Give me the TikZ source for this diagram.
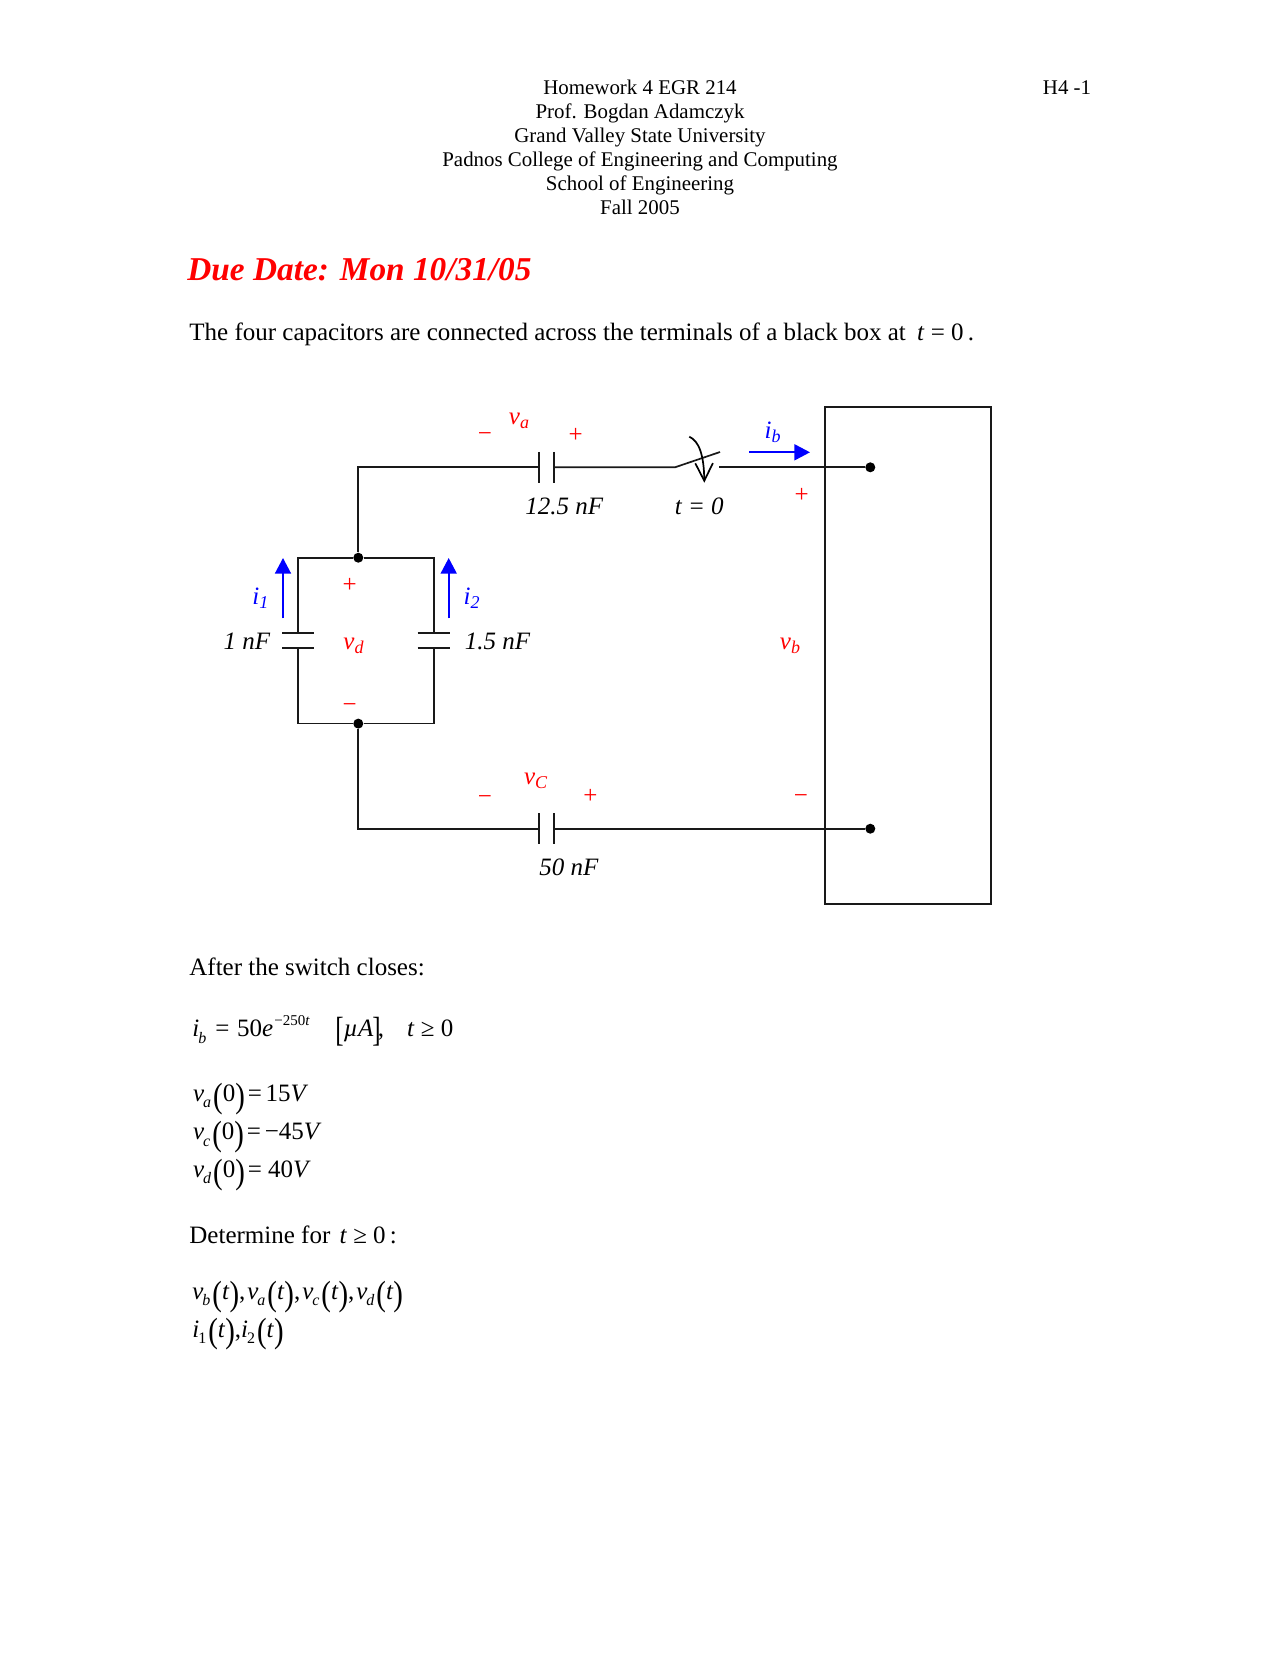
\documentclass[tikz,border=0pt]{standalone}
\usepackage{fontspec}
\usepackage{graphicx}
\setmainfont{Liberation Serif}
\usetikzlibrary{arrows.meta}
\definecolor{lblred}{rgb}{1,0,0}
\definecolor{lblblue}{rgb}{0,0,1}
\newcommand{\sbc}[2]{\textit{#1}\raisebox{-0.35ex}{\fontsize{9}{10}\selectfont\textit{#2}}}
\newcommand{\sbe}[2]{\textit{#1}\kern-0.5pt\raisebox{-0.55ex}{\fontsize{8}{9}\selectfont\textit{#2}}}
\newcommand{\sbd}[2]{\textit{#1}\kern-0.5pt\raisebox{-0.55ex}{\fontsize{8}{9}\selectfont #2}}
\newcommand{\pnb}[1]{\kern1pt\raisebox{-0.5ex}{\scalebox{1.15}[1.4]{(}}#1\raisebox{-0.5ex}{\scalebox{1.15}[1.4]{)}}}
\tikzset{
  wire/.style={line width=0.85pt,black!90},
  dot/.style={circle,fill=black,inner sep=0pt,minimum size=5pt},
  cirtext/.style={inner sep=0pt,font=\fontsize{12.5}{15}\selectfont},
  redtext/.style={cirtext,text=lblred},
  bluetext/.style={cirtext,text=lblblue},
  bodytext/.style={inner sep=0pt,anchor=base west,font=\fontsize{12.5}{15}\selectfont},
  eqtext/.style={inner sep=0pt,anchor=base west,font=\fontsize{12.5}{15}\selectfont},
  iarrow/.style={line width=0.85pt,lblblue,-{Triangle[length=7.8pt,width=8pt]}}
}
\begin{document}
\begin{tikzpicture}[x=0.5pt,y=-0.5pt]
\useasboundingbox (0,0) rectangle (1280,1656);

% header
\node[inner sep=0pt,align=center,font=\fontsize{10.45}{12}\selectfont] (head) at (640,147.5) {Homework 4 EGR 214\\Prof. Bogdan Adamczyk\\Grand Valley State University\\Padnos College of Engineering and Computing\\School of Engineering\\Fall 2005};
\node[inner sep=0pt,font=\fontsize{10.45}{12}\selectfont] (pagenum) at (1067,87.5) {H4 -1};
\node[inner sep=0pt,anchor=base west,text=lblred,font=\fontsize{16.65}{20}\selectfont\bfseries\itshape] (due) at (187,280) {Due Date: Mon 10/31/05};
\node[bodytext] (intro) at (189,340) {The four capacitors are connected across the terminals of a black box at\kern2.6pt\ \textit{t} = 0\,.};

% black box and terminals
\draw[wire] (825,407) rectangle (990.7,903.8);
\node[dot] (termb) at (870.3,467.3) {};
\node[dot] (termc) at (870.3,828.7) {};
\node[dot] (jtop) at (358.3,557.7) {};
\node[dot] (jbot) at (358.3,723.6) {};

% named points on the wires
\coordinate (capaL) at (539,467.3);
\coordinate (capaR) at (554.3,467.3);
\coordinate (capcL) at (539,828.7);
\coordinate (capcR) at (554.3,828.7);
\coordinate (swL) at (675,467.3);
\coordinate (swB) at (720,452);
\coordinate (swR) at (719,467.3);
\coordinate (cap1T) at (298,633);
\coordinate (cap1B) at (298,648);
\coordinate (cap2T) at (434,633);
\coordinate (cap2B) at (434,648);

\draw[wire] (jtop) -- (358.3,467.3) -- (capaL);
\draw[wire] (capaR) -- (swL) -- (swB);
\draw[wire] (swR) -- (termb);
\draw[wire] (jbot) -- (358.3,828.7) -- (capcL);
\draw[wire] (capcR) -- (termc);
\draw[wire] (jtop) -- (298,557.7) -- (cap1T);
\draw[wire] (cap1B) -- (298,723.6) -- (jbot);
\draw[wire] (jtop) -- (434,557.7) -- (cap2T);
\draw[wire] (cap2B) -- (434,723.6) -- (jbot);

% capacitor plates
\draw[wire] (539,451.9) -- (539,483);
\draw[wire] (554.3,451.9) -- (554.3,483);
\draw[wire] (539,813) -- (539,844);
\draw[wire] (554.3,813) -- (554.3,844);
\draw[wire] (282.3,633) -- (314,633);
\draw[wire] (282.3,648) -- (314,648);
\draw[wire] (417.7,633) -- (449.7,633);
\draw[wire] (417.7,648) -- (449.7,648);

% switch arrow
\draw[line width=0.85pt,-{Straight Barb[length=8.8pt,width=8.8pt]}] (689.3,436.7) .. controls (699,441) and (704,455) .. (704.3,482.7);

% currents
\coordinate (i1a) at (283,618.3);
\coordinate (i1b) at (283,558);
\coordinate (i2a) at (448.7,618.3);
\coordinate (i2b) at (448.7,558);
\coordinate (iba) at (749,452.3);
\coordinate (ibb) at (810,452.3);
\draw[iarrow] (i1a) -- (i1b);
\draw[iarrow] (i2a) -- (i2b);
\draw[iarrow] (iba) -- (ibb);
\node[bluetext] (li1) at (260.3,598) {\sbc{i}{1}};
\node[bluetext] (li2) at (471.7,598) {\sbc{i}{2}};
\node[bluetext] (lib) at (772.7,432.5) {\sbc{i}{b}};

% values
\node[cirtext] (la) at (564.3,506.2) {\textit{12.5 nF}};
\node[cirtext] (lc) at (569,867) {\textit{50 nF}};
\node[cirtext] (l1) at (247,641.3) {\textit{1 nF}};
\node[cirtext] (l2) at (497.7,641.3) {\textit{1.5 nF}};
\node[cirtext] (lsw) at (699.3,506.7) {\textit{t = 0}};

% voltages
\node[redtext] (va) at (519,420.6) {\sbc{v}{a}};
\node[redtext] (vam) at (485,437.2) {\textminus};
\node[redtext] (vap) at (575.7,435) {+};
\node[redtext] (vc) at (535.7,780.7) {\sbc{v}{C}};
\node[redtext] (vcm) at (485,799.7) {\textminus};
\node[redtext] (vcp) at (590.5,796.6) {+};
\node[redtext] (vd) at (353.5,646) {\sbc{v}{d}};
\node[redtext] (vdp) at (349.7,585.4) {+};
\node[redtext] (vdm) at (349.7,708.1) {\textminus};
\node[redtext] (vb) at (790,645.6) {\sbc{v}{b}};
\node[redtext] (vbp) at (801.7,495.4) {+};
\node[redtext] (vbm) at (801,799.2) {\textminus};

% text below
\node[bodytext] (after) at (189,975) {After the switch closes:};
\node[eqtext] (ib) at (192,1036.7) {\sbe{i}{b}};
\node[eqtext] (ibq) at (215,1036.7) {=};
\node[eqtext] (ibv) at (236.7,1036.7) {50\textit{e}};
\node[eqtext,font=\fontsize{7.5}{9}\selectfont] (ibx) at (274,1025) {\textminus 250\textit{t}};
\node[eqtext] (ibu) at (335,1036.7) {\raisebox{-0.4ex}{\scalebox{1}[1.4]{[}}\textit{µA}\kern-0.5pt\raisebox{-0.4ex}{\scalebox{1}[1.4]{]}}\kern-1.5pt,};
\node[eqtext] (ibt) at (406.7,1036.7) {\textit{t} ≥ 0};
\node[eqtext] (eqa) at (192.7,1101.5) {\sbe{v}{a}\pnb{0}\kern1.5pt=\kern1.9pt 15\textit{V}};
\node[eqtext] (eqc) at (192.7,1139.8) {\sbe{v}{c}\pnb{0}\kern1.5pt=\kern1.9pt\textminus 45\textit{V}};
\node[eqtext] (eqd) at (192.7,1177.5) {\sbe{v}{d}\pnb{0}\kern1.5pt=\kern3.1pt 40\textit{V}};
\node[bodytext] (deter) at (189,1243) {Determine for\kern1.5pt\ \textit{t} ≥ 0\,:};
\node[eqtext] (resv) at (192,1299.5) {\sbe{v}{b}\pnb{\textit{t}},\kern1pt\sbe{v}{a}\pnb{\textit{t}},\kern1pt\sbe{v}{c}\pnb{\textit{t}},\kern1pt\sbe{v}{d}\pnb{\textit{t}}};
\node[eqtext] (resi) at (192,1337) {\sbd{i}{1}\pnb{\textit{t}},\sbd{i}{2}\pnb{\textit{t}}};
\end{tikzpicture}
\end{document}
